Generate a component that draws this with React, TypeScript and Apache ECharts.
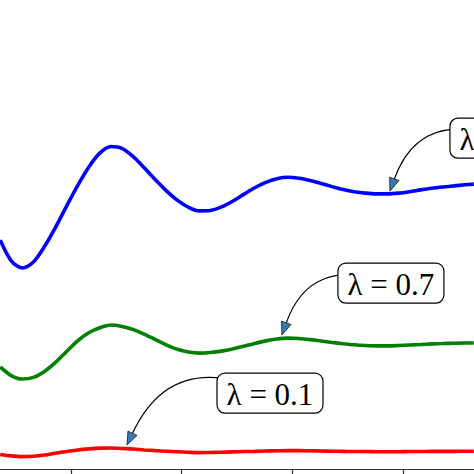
import React, { useRef, useEffect } from 'react';
import * as echarts from 'echarts';

// sample times (x) shared by the three curves
const time = [
  1.8, 2.3, 2.8, 3.3, 3.8, 4.3, 4.8, 5.3, 5.8, 6.3,
  6.8, 7.3, 7.8, 8.3, 8.8, 9.3, 9.8, 10.3, 10.8, 11.3,
  11.8, 12.3, 12.8, 13.3, 13.8, 14.3, 14.8, 15.3, 15.8, 16.3,
  16.8, 17.3, 17.8, 18.3, 18.8, 19.3, 19.8, 20.3, 20.8, 21.3,
  21.8, 22.3, 22.8, 23.2,
];

const blueValues = [
  1.272, 1.157, 1.117, 1.150, 1.236, 1.343, 1.461, 1.575, 1.677, 1.755,
  1.792, 1.782, 1.737, 1.675, 1.609, 1.547, 1.494, 1.455, 1.434, 1.436,
  1.456, 1.488, 1.526, 1.563, 1.593, 1.613, 1.621, 1.616, 1.603, 1.586,
  1.569, 1.553, 1.541, 1.533, 1.529, 1.529, 1.533, 1.541, 1.551, 1.560,
  1.567, 1.573, 1.579, 1.583,
];

const greenValues = [
  0.567, 0.519, 0.500, 0.509, 0.542, 0.592, 0.653, 0.712, 0.757, 0.785,
  0.800, 0.792, 0.775, 0.750, 0.720, 0.690, 0.665, 0.650, 0.644, 0.647,
  0.655, 0.667, 0.682, 0.698, 0.712, 0.722, 0.727, 0.725, 0.719, 0.711,
  0.703, 0.696, 0.690, 0.686, 0.684, 0.684, 0.686, 0.689, 0.692, 0.695,
  0.697, 0.699, 0.700, 0.700,
];

const redValues = [
  0.081, 0.073, 0.069, 0.071, 0.078, 0.088, 0.097, 0.106, 0.112, 0.116,
  0.117, 0.114, 0.111, 0.106, 0.102, 0.099, 0.096, 0.093, 0.091, 0.092,
  0.093, 0.095, 0.097, 0.098, 0.100, 0.101, 0.102, 0.102, 0.101, 0.100,
  0.099, 0.098, 0.097, 0.097, 0.096, 0.096, 0.096, 0.097, 0.097, 0.098,
  0.098, 0.098, 0.099, 0.099,
];

const xTicks = [5, 10, 15, 20];

// arrow tip in data coords, label box centre offset from the tip in px
const annotations = [
  { label: 'λ = 0.1', at: [7.53, 0.133], offset: [143, -52] },
  { label: 'λ = 0.7', at: [14.53, 0.744], offset: [109, -52] },
  { label: 'λ = 1.5', at: [19.41, 1.544], offset: [113, -53] },
];

const ARC_RAD = 0.5;
const BOX_W = 106;
const BOX_H = 40;
const HEAD_LEN = 13;
const HEAD_HALF = 5;

const toPoints = (values: number[]) => time.map((t, i) => [t, values[i]]);

const buildGraphic = (chart: echarts.ECharts) => {
  const elements: any[] = [];
  annotations.forEach((a) => {
    const [bx, by] = chart.convertToPixel({ gridIndex: 0 }, a.at) as number[];
    const ax = bx + a.offset[0];
    const ay = by + a.offset[1];
    // matplotlib arc3 connection
    const mx = (ax + bx) / 2;
    const my = (ay + by) / 2;
    const cx = mx - ARC_RAD * (by - ay);
    const cy = my + ARC_RAD * (bx - ax);
    let dx = bx - cx;
    let dy = by - cy;
    const len = Math.hypot(dx, dy);
    dx /= len;
    dy /= len;
    const baseX = bx - dx * HEAD_LEN;
    const baseY = by - dy * HEAD_LEN;
    const nx = -dy;
    const ny = dx;

    elements.push({
      type: 'bezierCurve',
      z: 10,
      shape: { x1: ax, y1: ay, x2: baseX, y2: baseY, cpx1: cx, cpy1: cy },
      style: { stroke: '#000', lineWidth: 1.2, fill: null },
    });
    elements.push({
      type: 'polygon',
      z: 11,
      shape: {
        points: [
          [bx, by],
          [baseX + nx * HEAD_HALF, baseY + ny * HEAD_HALF],
          [baseX - nx * HEAD_HALF, baseY - ny * HEAD_HALF],
        ],
      },
      style: { fill: '#3a7ab5', stroke: '#111', lineWidth: 0.8 },
    });
    elements.push({
      type: 'rect',
      z: 12,
      shape: { x: ax - BOX_W / 2, y: ay - BOX_H / 2, width: BOX_W, height: BOX_H, r: 8 },
      style: { fill: '#fff', stroke: '#000', lineWidth: 1.2 },
    });
    elements.push({
      type: 'text',
      z: 13,
      style: {
        text: a.label,
        x: ax,
        y: ay + 1,
        fill: '#000',
        font: '31px "Liberation Serif"',
        align: 'center',
        verticalAlign: 'middle',
        textAlign: 'center',
        textVerticalAlign: 'middle',
      },
    });
  });
  return elements;
};

export default function App() {
  const chartRef = useRef<HTMLDivElement>(null);

  useEffect(() => {
    if (!chartRef.current) return;
    const chart = echarts.init(chartRef.current, null, { renderer: 'svg' });

    const lineSeries = (values: number[], color: string) => ({
      type: 'line',
      data: toPoints(values),
      showSymbol: false,
      smooth: 0.3,
      clip: true,
      lineStyle: { color, width: 3.6 },
      itemStyle: { color },
    });

    chart.setOption({
      animation: false,
      backgroundColor: '#fff',
      grid: { left: 0, right: 0, top: 0, bottom: 5, containLabel: false, outerBoundsMode: 'none' },
      xAxis: {
        type: 'value',
        min: 1.792,
        max: 23.208,
        axisLine: { show: true, lineStyle: { color: '#333', width: 1.2 } },
        axisTick: {
          show: true,
          inside: false,
          length: 8,
          customValues: xTicks,
          lineStyle: { color: '#333', width: 1.2 },
        },
        axisLabel: { show: false },
        splitLine: { show: false },
      },
      yAxis: {
        type: 'value',
        min: 0,
        max: 2.606,
        show: false,
        splitLine: { show: false },
      },
      series: [
        lineSeries(blueValues, '#0000ff'),
        lineSeries(greenValues, '#008000'),
        lineSeries(redValues, '#ff0000'),
      ],
    });

    chart.setOption({ graphic: buildGraphic(chart) });

    return () => {
      chart.dispose();
    };
  }, []);

  return (
    <div
      ref={chartRef}
      style={{ position: 'absolute', left: 0, top: 0, width: '474px', height: '474px' }}
    />
  );
}
